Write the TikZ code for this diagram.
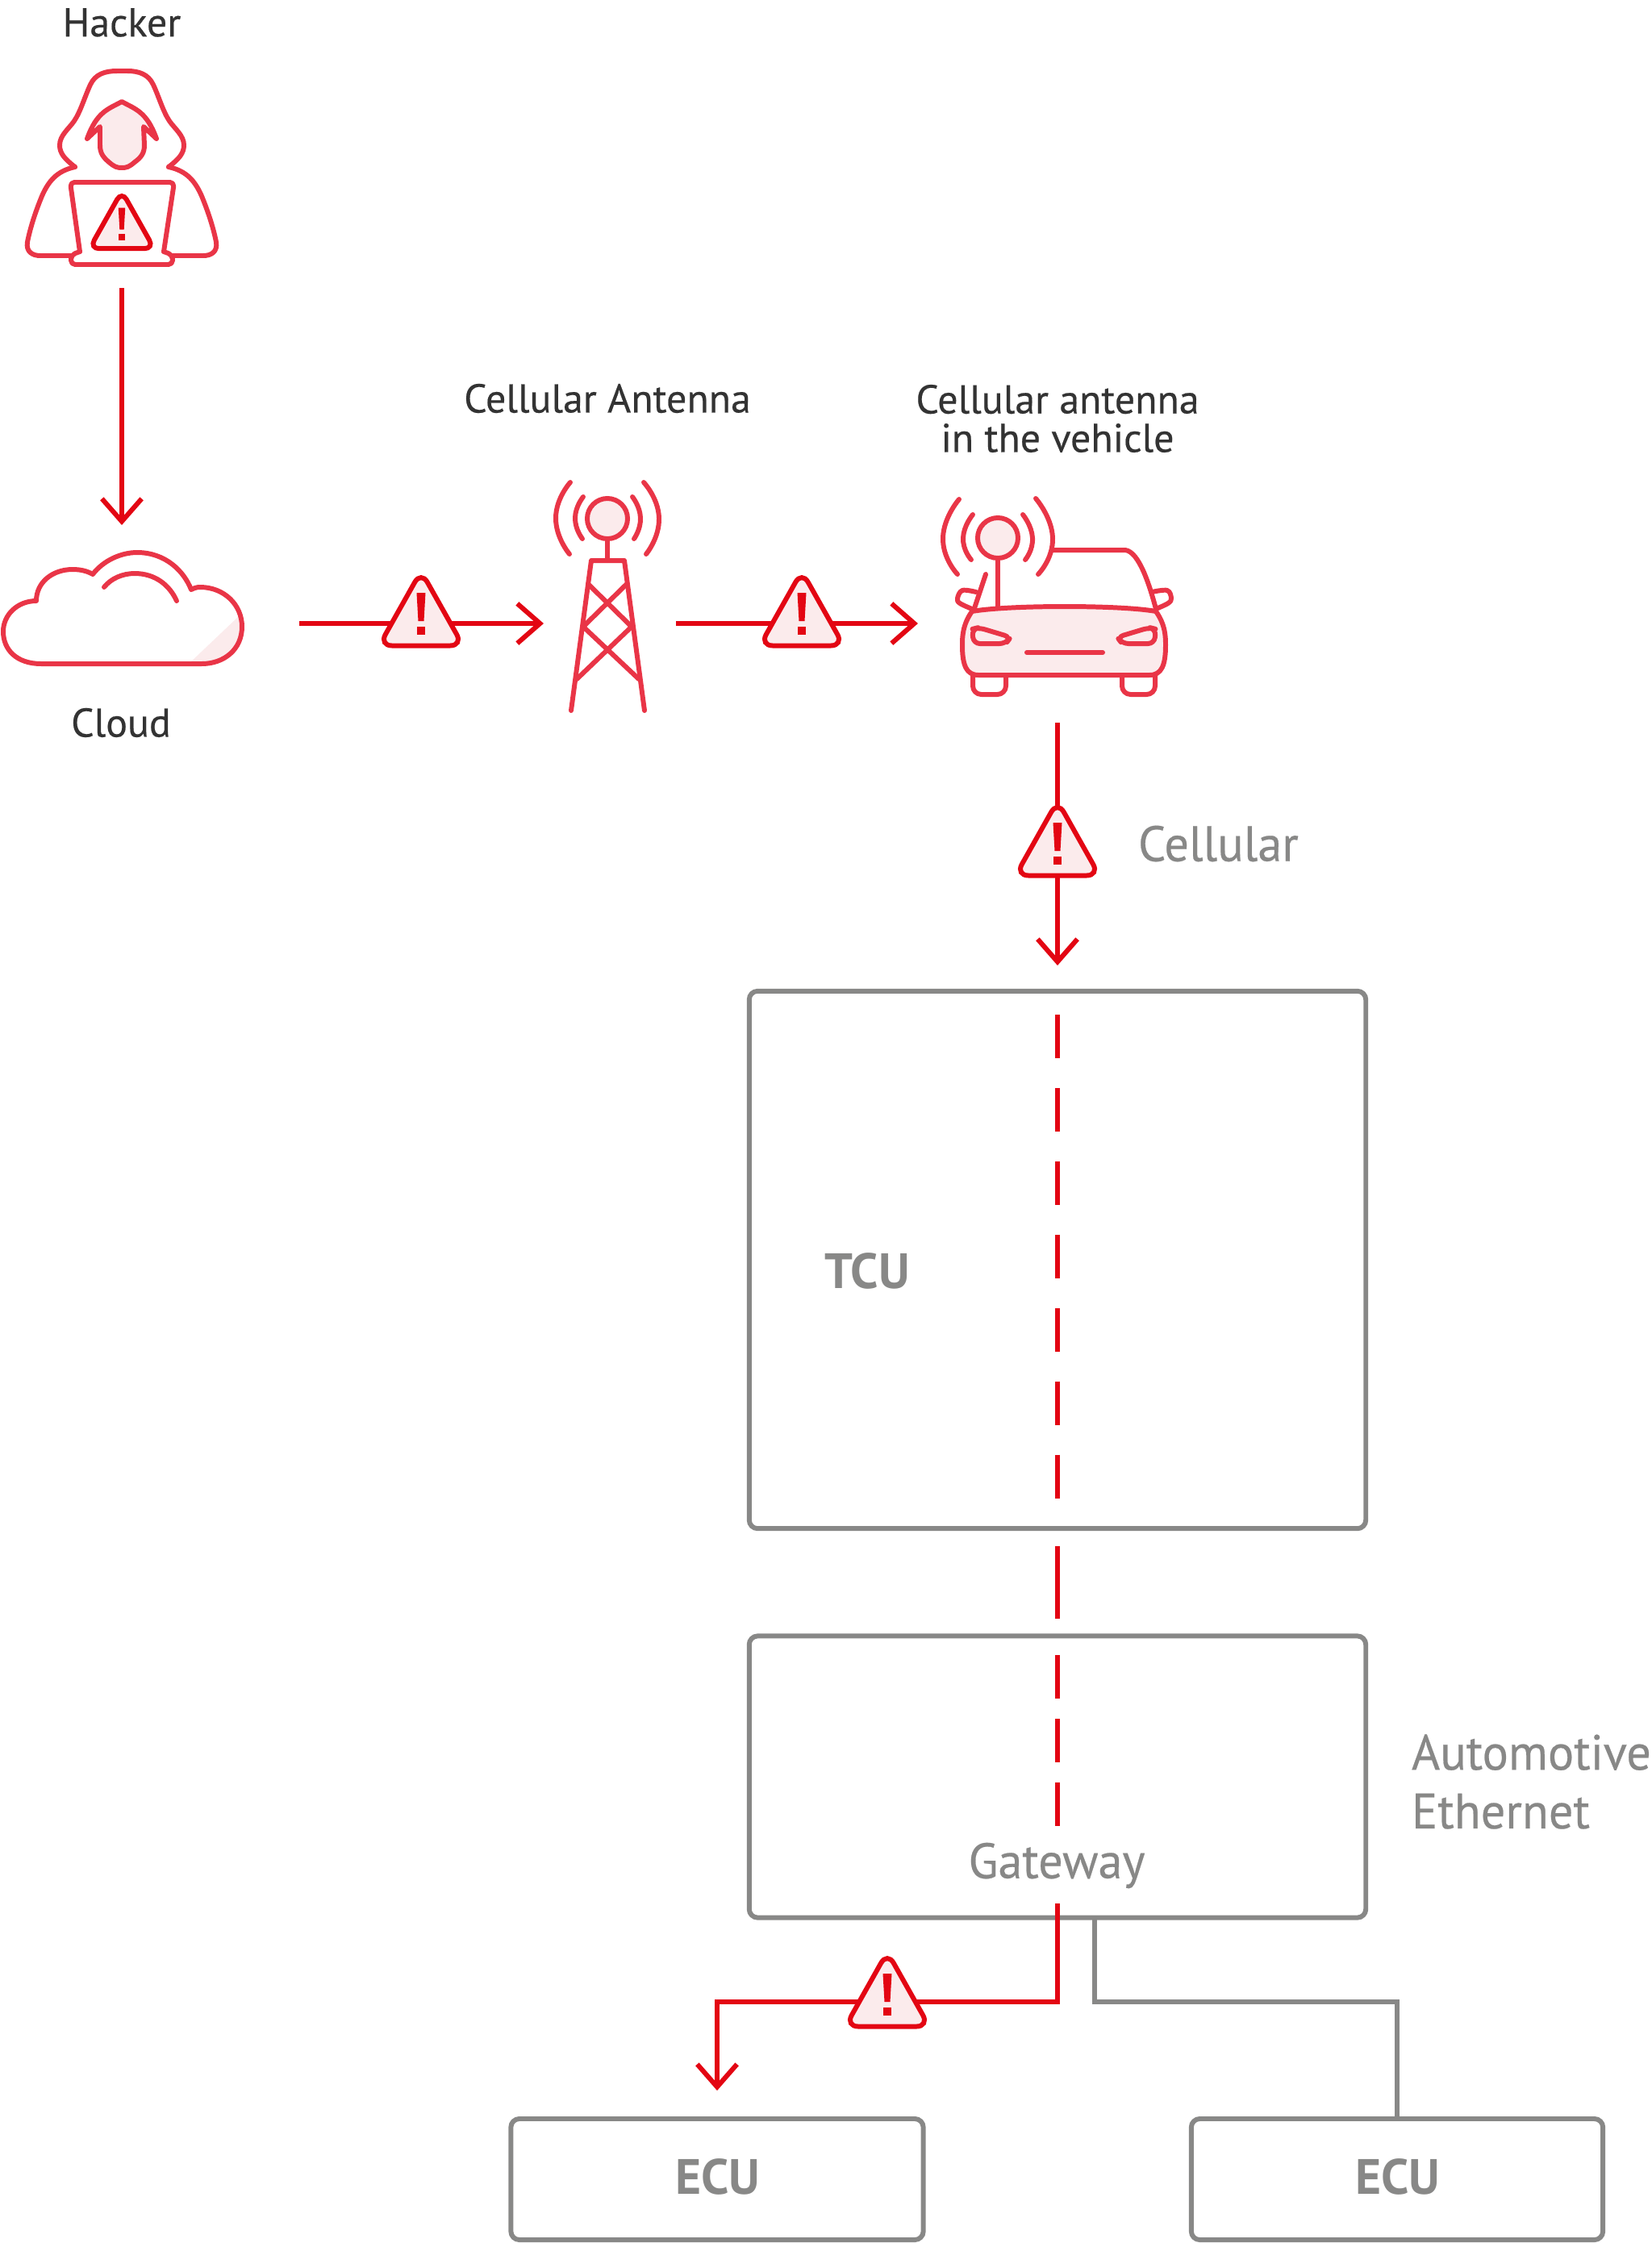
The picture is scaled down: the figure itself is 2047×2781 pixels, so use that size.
\documentclass[tikz,border=0pt]{standalone}
\usepackage{fontspec}
\setmainfont{PT Sans}
\newfontfamily\labelfont[FakeBold=0.4]{PT Sans}
\newfontfamily\greyfont[FakeBold=0.4,FakeStretch=0.98]{PT Sans}
\usetikzlibrary{arrows.meta}

\definecolor{hackred}{HTML}{E30613}
\definecolor{iconred}{HTML}{E93547}
\definecolor{iconfill}{HTML}{FBEBEC}
\definecolor{boxgrey}{HTML}{888887}
\definecolor{textdark}{HTML}{333333}

\tikzset{
  icon/.style={draw=iconred,line cap=round,line join=round},
  link/.style={draw=hackred,-{Straight Barb[length=8pt,width=14pt]}},
  linkplain/.style={draw=hackred},
  greybox/.style={draw=boxgrey,rounded corners=3pt,inner sep=0pt},
  ball/.style={circle,draw=iconred,fill=iconfill,minimum size=.5cm,inner sep=0pt},
  blacktext/.style={text=textdark,font=\fontsize{14.2}{13.6}\labelfont,align=center},
  greytext/.style={text=boxgrey,inner sep=0pt,font=\fontsize{17.5}{20.7}\greyfont,align=left},
  greybold/.style={text=boxgrey,font=\fontsize{17.5}{20.7}\selectfont\bfseries},
  pics/warn/.style={code={
    \draw[draw=hackred,fill=iconfill,rounded corners=#1]
      (0,-65) -- (52,27.5) -- (-52,27.5) -- cycle;
    \fill[hackred] (-5.5,-38) -- (5.5,-38) -- (3.5,-3) -- (-3.5,-3) -- cycle;
    \fill[hackred] (-5,4) rectangle (5,14);
  }},
}
\newcommand{\cloudpath}{(51,823) .. controls (20,823) and (4,805) .. (4,783)
  .. controls (4,762) and (22,745) .. (45,745)
  .. controls (45,722) and (65,706) .. (90,706)
  .. controls (100,706) and (108,708) .. (115,712)
  .. controls (128,695) and (150,685) .. (170,685)
  .. controls (205,685) and (228,708) .. (237,731)
  .. controls (241,729) and (244,728) .. (248,728)
  .. controls (278,728) and (300,750) .. (300,777)
  .. controls (300,805) and (278,823) .. (250,823) -- cycle}

\begin{document}
\begin{tikzpicture}[x=.01cm,y=-.01cm,line width=1.7pt]
  \useasboundingbox (0,0) rectangle (2047,2781);

  % labels
  \node[blacktext] (hackerlabel) at (151,28) {Hacker};
  \node[blacktext] (cloudlabel) at (150,896) {Cloud};
  \node[blacktext] (towerlabel) at (753,494) {Cellular Antenna};
  \node[blacktext] (carlabel) at (1311,519) {Cellular antenna\\in the vehicle};
  \node[greytext,anchor=west] (celllabel) at (1408,1046) {Cellular};
  \node[greytext,anchor=west] (ethlabel) at (1747,2209) {Automotive\\Ethernet};

  % boxes
  \node[greybox,minimum width=7.64cm,minimum height=6.66cm] (tcu) at (1311,1562) {};
  \node[greybox,minimum width=7.64cm,minimum height=3.49cm] (gateway) at (1311,2203) {};
  \node[greybox,minimum width=5.11cm,minimum height=1.5cm] (ecua) at (889,2702) {};
  \node[greybox,minimum width=5.10cm,minimum height=1.5cm] (ecub) at (1732,2702) {};
  \node[greybold] (tculabel) at (1075,1576) {TCU};
  \node[greytext] (gatewaylabel) at (1310,2313) {Gateway};
  \node[greybold] at ([xshift=.01cm,yshift=.03cm]ecua) {ECU};
  \node[greybold] at ([xshift=.01cm,yshift=.03cm]ecub) {ECU};

  % hacker
  \draw[icon] (93,207) .. controls (80,197) and (74,190) .. (74,180) .. controls (74,168) and (85,160) .. (92,150)
    .. controls (100,138) and (105,120) .. (112,105) .. controls (118,92) and (130,88) .. (145,88) -- (158,88)
    .. controls (172,88) and (184,92) .. (190,105) .. controls (197,120) and (202,138) .. (210,150)
    .. controls (217,160) and (228,168) .. (228,180) .. controls (228,190) and (222,197) .. (209,207);
  \draw[icon] (93,207) .. controls (70,212) and (60,225) .. (52,243) .. controls (45,260) and (38,280) .. (34,300)
    .. controls (32,312) and (40,317) .. (50,317) -- (88,317);
  \draw[icon] (209,207) .. controls (232,212) and (242,225) .. (250,243) .. controls (257,260) and (264,280) .. (268,300)
    .. controls (270,312) and (262,317) .. (252,317) -- (213,317);
  \draw[icon,fill=iconfill] (151,126) .. controls (135,135) and (120,138) .. (108,172) -- (124,157) -- (124,180)
    .. controls (124,190) and (128,195) .. (135,201) .. controls (142,207) and (145,208) .. (151,208)
    .. controls (157,208) and (160,207) .. (167,201) .. controls (175,195) and (179,190) .. (179,180)
    -- (178,157) -- (194,172) .. controls (182,138) and (167,135) .. (151,126) -- cycle;
  \draw[icon,rounded corners=1.5pt] (99,312) -- (87,226) -- (216,226) -- (203,312);
  \draw[icon,rounded corners=1.5pt] (99,312) -- (88,316) -- (88,328) -- (214,328) -- (214,316) -- (203,312);
  \pic[scale=.77] at (151,287) {warn=3.4pt};
  \coordinate (hackerout) at (151,357);
  \coordinate (cloudin) at (151,651);
  \draw[link] (hackerout) -- (cloudin);

  % cloud
  \begin{scope}
    \clip (295,765) -- (234,823) -- (234,840) -- (320,840) -- (320,765) -- cycle;
    \fill[iconfill] \cloudpath;
  \end{scope}
  \draw[icon] \cloudpath;
  \draw[icon] (129,728) .. controls (138,717) and (152,711) .. (167,711)
    .. controls (192,711) and (210,725) .. (219,745);

  % tower
  \node[ball] (towerball) at (753,643) {};
  \coordinate (towertop) at (753,695);
  \draw[icon] (towerball) -- (towertop);
  \draw[icon] (708,881) -- (733,695) -- (774,695) -- (799,881);
  \draw[icon] (729,724) -- (783,777) (777,724) -- (723,777) (723,777) -- (792,842) (783,777) -- (715,842);
  \draw[icon] plot[smooth,tension=1] coordinates {(723,616) (713,642) (722,668)};
  \draw[icon] plot[smooth,tension=1] coordinates {(707,598) (689,642) (706,687)};
  \draw[icon] plot[smooth,tension=1] coordinates {(784,616) (794,642) (786,668)};
  \draw[icon] plot[smooth,tension=1] coordinates {(798,598) (817,642) (801,687)};

  % car
  \draw[icon] (1305,682) -- (1395,682) .. controls (1412,684) and (1425,725) .. (1433,755);
  \draw[icon] (1222,712) -- (1207,757);
  \draw[icon] plot[smooth,tension=.6] coordinates {(1210,734) (1193,732) (1187,742) (1190,748) (1205,755)};
  \draw[icon] plot[smooth,tension=.6] coordinates {(1428,734) (1447,732) (1452,742) (1448,748) (1433,755)};
  \draw[icon,rounded corners=3pt] (1206,837) -- (1206,861) -- (1247,861) -- (1247,837);
  \draw[icon,rounded corners=3pt] (1391,837) -- (1391,861) -- (1432,861) -- (1432,837);
  \draw[icon,fill=iconfill] (1205,758) .. controls (1250,750) and (1390,750) .. (1433,758)
    .. controls (1445,775) and (1445,790) .. (1445,800) .. controls (1445,825) and (1440,837) .. (1425,837)
    -- (1213,837) .. controls (1198,837) and (1193,825) .. (1193,800)
    .. controls (1193,790) and (1193,775) .. (1205,758) -- cycle;
  \draw[icon,rounded corners=2.2pt] (1213,778) -- (1253,790) -- (1247,798) -- (1207,798) -- (1205,780) -- cycle;
  \draw[icon,rounded corners=2.2pt] (1425,778) -- (1385,790) -- (1391,798) -- (1431,798) -- (1433,780) -- cycle;
  \draw[icon] (1273,809) -- (1367,809);
  \node[ball] (carball) at (1237,667) {};
  \coordinate (carhood) at (1237,752);
  \draw[icon] (carball) -- (carhood);
  \draw[icon] plot[smooth,tension=1] coordinates {(1206,638) (1194,667) (1204,694)};
  \draw[icon] plot[smooth,tension=1] coordinates {(1189,619) (1169,667) (1187,712)};
  \draw[icon] plot[smooth,tension=1] coordinates {(1268,638) (1280,667) (1271,694)};
  \draw[icon] plot[smooth,tension=1] coordinates {(1284,618) (1305,667) (1287,712)};

  % links
  \coordinate (cloudout) at (371,773);
  \coordinate (towerin) at (674,773);
  \coordinate (towerout) at (838,773);
  \coordinate (carin) at (1138,773);
  \coordinate (carout) at (1311,896);
  \coordinate (tcuin) at (1311,1197);
  \draw[link] (cloudout) -- (towerin);
  \draw[link] (towerout) -- (carin);
  \draw[link] (carout) -- (tcuin);
  \pic at (522,773) {warn=4.5pt};
  \pic at (994,773) {warn=4.5pt};
  \pic at (1311,1058) {warn=4.5pt};

  % dashed run through the boxes
  \coordinate (runa) at (1311,1258);
  \coordinate (runb) at (1311,1860);
  \coordinate (runc) at (1311,1917);
  \coordinate (rund) at (1311,2007);
  \coordinate (rune) at (1311,2052);
  \coordinate (runf) at (1311,2264);
  \coordinate (rung) at (1311,2360);
  \coordinate (redbend) at (1311,2482);
  \coordinate (redleft) at (889,2482);
  \coordinate (ecuin) at (889,2592);
  \draw[linkplain,dash pattern=on 15.36pt off 10.5pt] (runa) -- (runb);
  \draw[linkplain] (runc) -- (rund);
  \draw[linkplain,dash pattern=on 15.36pt off 7.1pt] (rune) -- (runf);
  \draw[link] (rung) -- (redbend) -- (redleft) -- (ecuin);
  \pic at (1100,2485) {warn=4.5pt};

  % grey link
  \coordinate (greyout) at (1357,2377);
  \coordinate (greybend) at (1357,2482);
  \coordinate (greyright) at (1732,2482);
  \draw[draw=boxgrey] (greyout) -- (greybend) -- (greyright) -- (ecub.north);
\end{tikzpicture}
\end{document}
